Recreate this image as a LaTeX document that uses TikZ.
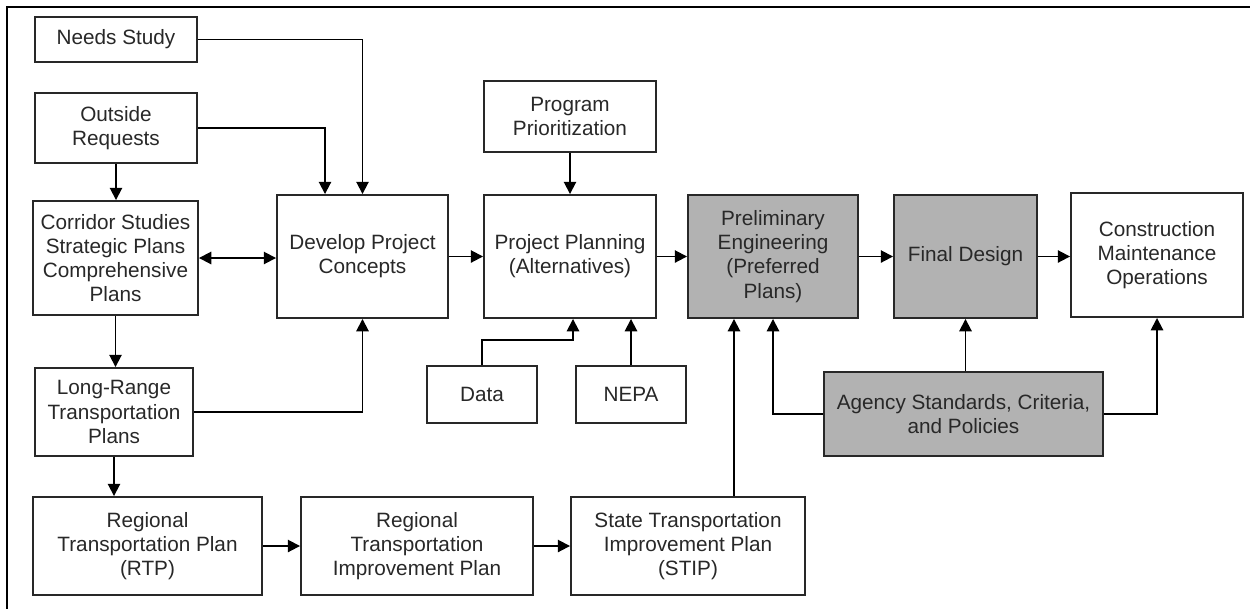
\documentclass[tikz,border=0pt]{standalone}
\usepackage{fontspec}
\setmainfont{Liberation Sans}
\usepackage{tikz}
\usetikzlibrary{positioning,arrows.meta}
\definecolor{boxgray}{RGB}{178,178,178}
\definecolor{inkgray}{RGB}{40,40,40}

\begin{document}
\begin{tikzpicture}[
    x=0.02cm, y=-0.02cm,
    % define styles
    blk/.style={
        draw=inkgray,
        line width=1.1pt,
        fill=white,
        align=center,
        inner sep=2pt,
        text=inkgray,
        font=\fontsize{11.8}{13.8}\selectfont
    },
    shade/.style={
        blk,
        fill=boxgray
    },
    arr/.style={
        draw=black,
        line width=1.05pt,
        -{Triangle[length=7pt,width=7pt]}
    }
]
\useasboundingbox (0,0) rectangle (1250,609);
% frame lines, top and left only
\draw[line width=1.2pt] (1250,7) -- (7,7) -- (7,609);

% left column
\node[blk,minimum width=3.24cm,minimum height=0.90cm] at (116,39.5) (needs) {Needs Study};
\node[blk,minimum width=3.24cm,minimum height=1.40cm] at (116,128) (outside) {Outside\\Requests};
\node[blk,minimum width=3.30cm,minimum height=2.28cm] at (115.5,258) (corridor) {Corridor Studies\\Strategic Plans\\Comprehensive\\Plans};
\node[blk,minimum width=3.16cm,minimum height=1.76cm] at (114,412) (longrange) {Long-Range\\Transportation\\Plans};

% main row
\node[blk,minimum width=3.42cm,minimum height=2.46cm] at (362.5,256.5) (develop) {Develop Project\\Concepts};
\node[blk,minimum width=3.44cm,minimum height=1.42cm] at (570,116.5) (program) {Program\\Prioritization};
\node[blk,minimum width=3.44cm,minimum height=2.46cm] at (570,256.5) (planning) {Project Planning\\(Alternatives)};
\node[shade,minimum width=3.40cm,minimum height=2.46cm] at (773,256.5) (prelim) {Preliminary\\Engineering\\(Preferred\\Plans)};
\node[shade,minimum width=2.86cm,minimum height=2.46cm] at (965.5,256.5) (final) {Final Design};
\node[blk,minimum width=3.44cm,minimum height=2.48cm] at (1157,255) (constr) {Construction\\Maintenance\\Operations};

% inputs below the planning step
\node[blk,minimum width=2.20cm,minimum height=1.14cm] at (482,394.5) (data) {Data};
\node[blk,minimum width=2.20cm,minimum height=1.14cm] at (631,394.5) (nepa) {NEPA};
\node[shade,minimum width=5.58cm,minimum height=1.68cm] at (963.5,414) (agency) {Agency Standards, Criteria,\\and Policies};

% bottom row
\node[blk,minimum width=4.58cm,minimum height=1.96cm] at (147.5,546) (rtp) {Regional\\Transportation Plan\\(RTP)};
\node[blk,minimum width=4.64cm,minimum height=1.96cm] at (417,546) (rtip) {Regional\\Transportation\\Improvement Plan};
\node[blk,minimum width=4.68cm,minimum height=1.96cm] at (688,546) (stip) {State Transportation\\Improvement Plan\\(STIP)};

% arrows into develop
\draw[arr] (needs.east) -| (develop.north);
\draw[arr] (outside.east) -| ([xshift=-0.75cm]develop.north);
\draw[arr] (longrange.east) -| (develop.south);
\draw[arr,{Triangle[length=7pt,width=7pt]}-{Triangle[length=7pt,width=7pt]}] (corridor.east) -- (corridor.east -| develop.west);

% left column chain
\draw[arr] (outside.south) -- (outside.south |- corridor.north);
\draw[arr] (corridor.south) -- (corridor.south |- longrange.north);
\draw[arr] (longrange.south) -- (longrange.south |- rtp.north);

% main row
\draw[arr] (develop.east) -- (develop.east -| planning.west);
\draw[arr] (planning.east) -- (planning.east -| prelim.west);
\draw[arr] (prelim.east) -- (prelim.east -| final.west);
\draw[arr] (final.east) -- (final.east -| constr.west);
\draw[arr] (program.south) -- (planning.north);
\draw[arr] (data.north) -- ++(0,-25) -| ([xshift=0.06cm]planning.south);
\draw[arr] (nepa.north) -- (nepa.north |- planning.south);

% standards
\draw[arr] (agency.west) -| (prelim.south);
\draw[arr] (final.south |- agency.north) -- (final.south);
\draw[arr] (agency.east) -| (constr.south);

% bottom row
\draw[arr] (rtp.east) -- (rtp.east -| rtip.west);
\draw[arr] (rtip.east) -- (rtip.east -| stip.west);
\draw[arr] ([xshift=0.92cm]stip.north) -- ([xshift=0.92cm]stip.north |- prelim.south);
\end{tikzpicture}
\end{document}
